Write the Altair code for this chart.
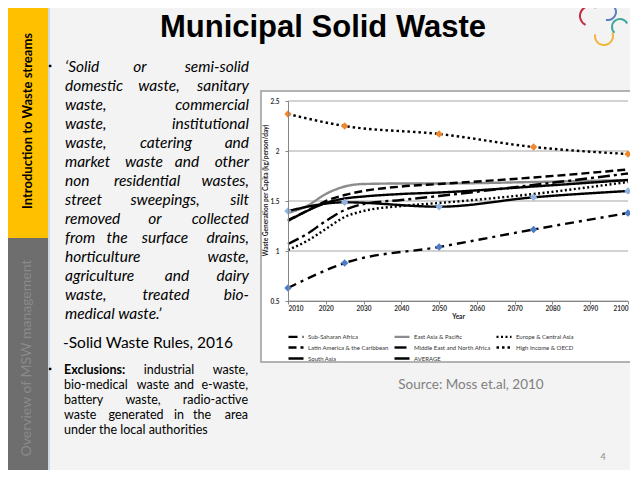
import altair as alt
import pandas as pd

# ---------------- chart data ----------------
series_order = [
    "Sub-Saharan Africa", "Latin America & the Caribbean", "South Asia",
    "East Asia & Pacific", "Middle East and North Africa", "AVERAGE",
    "Europe & Central Asia", "High Income & OECD",
]
years_curve = [2010, 2015, 2020, 2025, 2030, 2040, 2050, 2075, 2100]
east_asia = [1.38, 1.45, 1.57, 1.645, 1.67, 1.675, 1.675, 1.69, 1.71]
latin_america = [1.31, 1.40, 1.50, 1.56, 1.60, 1.645, 1.67, 1.735, 1.815]
middle_east = [1.07, 1.17, 1.30, 1.41, 1.47, 1.51, 1.55, 1.66, 1.775]
europe = [1.01, 1.10, 1.22, 1.34, 1.40, 1.45, 1.48, 1.57, 1.69]
average = [1.30, 1.40, 1.48, 1.525, 1.545, 1.57, 1.585, 1.645, 1.71]

years_marker = [2010, 2025, 2050, 2075, 2100]
sub_saharan = [0.63, 0.88, 1.04, 1.215, 1.38]
south_asia = [1.40, 1.487, 1.443, 1.537, 1.60]
high_income = [2.37, 2.25, 2.17, 2.04, 1.97]

x_ticks = [2010, 2020, 2030, 2040, 2050, 2060, 2070, 2080, 2090, 2100]
y_ticks = [0.5, 1, 1.5, 2, 2.5]

rows = []
for name, yrs, vals in [
    ("Sub-Saharan Africa", years_marker, sub_saharan),
    ("East Asia & Pacific", years_curve, east_asia),
    ("Europe & Central Asia", years_curve, europe),
    ("Latin America & the Caribbean", years_curve, latin_america),
    ("Middle East and North Africa", years_curve, middle_east),
    ("High Income & OECD", years_marker, high_income),
    ("South Asia", years_marker, south_asia),
    ("AVERAGE", years_curve, average),
]:
    for yr, v in zip(yrs, vals):
        rows.append({"series": name, "year": yr, "value": v})
df = pd.DataFrame(rows)
grid_df = pd.DataFrame({"value": y_ticks})

# slide texts
title_text = "Municipal Solid Waste"
side_text_1 = "Introduction to Waste streams"
side_text_2 = "Overview of MSW management"
quote_lines = [
    ["\u2018Solid", "or", "semi-solid"],
    ["domestic", "waste,", "sanitary"],
    ["waste,", "commercial"],
    ["waste,", "institutional"],
    ["waste,", "catering", "and"],
    ["market", "waste", "and", "other"],
    ["non", "residential", "wastes,"],
    ["street", "sweepings,", "silt"],
    ["removed", "or", "collected"],
    ["from", "the", "surface", "drains,"],
    ["horticulture", "waste,"],
    ["agriculture", "and", "dairy"],
    ["waste,", "treated", "bio-"],
    ["medical waste.\u2019"],
]
rules_text = "-Solid Waste Rules, 2016"
excl_lines = [
    ["Exclusions:", "industrial", "waste,"],
    ["bio-medical", "waste", "and", "e-waste,"],
    ["battery", "waste,", "radio-active"],
    ["waste", "generated", "in", "the", "area"],
    ["under the local authorities"],
]
source_text = "Source: Moss et.al, 2010"
page_text = "4"

# ---------------- layout (reference pixel coordinates) ----------------
OX, OY = 288, 101          # plot origin in page pixels
W, H = 340, 200
BODY = "Lato"

quote_mid = [[140], [159], [], [], [166], [144, 187], [147], [165], [155], [117, 165], [], [177], [166], []]
excl_mid = [[169], [153, 184], [143], [136, 179, 202], []]


def one():
    return alt.InlineData(values=[{"a": 0}])


def txt(s, x, y, size, align="left", font=BODY, style="normal", weight="normal",
        color="#000000", angle=0, baseline="middle"):
    return alt.Chart(alt.InlineData(values=[{"t": s}])).mark_text(
        align=align, baseline=baseline, fontSize=size, font=font, fontStyle=style,
        fontWeight=weight, color=color, angle=angle
    ).encode(x=alt.value(x - OX), y=alt.value(y - OY), text="t:N")


def rect(x1, y1, x2, y2, **kw):
    return alt.Chart(one()).mark_rect(**kw).encode(
        x=alt.value(x1 - OX), x2=alt.value(x2 - OX), y=alt.value(y1 - OY), y2=alt.value(y2 - OY))


def arc(cx, cy, r, t1, t2, color):
    return alt.Chart(one()).mark_arc(radius=r, radius2=r - 2, theta=t1, theta2=t2, color=color).encode(
        x=alt.value(cx - OX), y=alt.value(cy - OY))


def justified(lines, mids, left, right, y0, dy, size, style="normal", first_bold=False):
    out = []
    for i, (words, m) in enumerate(zip(lines, mids)):
        y = y0 + i * dy
        for j, w in enumerate(words):
            weight = "bold" if (first_bold and i == 0 and j == 0) else "normal"
            if j == 0:
                out.append(txt(w, left, y, size, "left", style=style, weight=weight))
            elif j == len(words) - 1:
                out.append(txt(w, right, y, size, "right", style=style, weight=weight))
            else:
                out.append(txt(w, m[j - 1], y, size, "center", style=style, weight=weight))
    return out


deco = [
    rect(0, 0, 48, 238, color="#ffc000"),
    rect(0, 238, 48, 478, color="#6e6e6e"),
    alt.Chart(one()).mark_rule(color="#a9c2d8", strokeWidth=1).encode(
        x=alt.value(49 - OX), y=alt.value(0 - OY), y2=alt.value(478 - OY)),
    txt(side_text_1, 28, 121, 13, "center", weight="bold", angle=270),
    txt(side_text_2, 27, 358, 14, "center", color="#8a8a8a", angle=270),
    txt(title_text, 323, 37, 31, "center", font="Liberation Sans", weight="bold", baseline="alphabetic"),
    txt("\u25aa", 50, 66, 9, "center"),
    txt("\u25aa", 50, 369, 9, "center"),
    txt(rules_text, 63, 343, 15.5, "left"),
    txt(source_text, 471, 385, 13.5, "center", color="#808080"),
    txt(page_text, 603, 457, 9, "center", color="#8a8a8a"),
    # decorative logo strokes (top right)
    arc(590, 16, 11, 3.6, 6.9, "#c22f45"),
    arc(608, 12, 9, 0.2, 3.4, "#5b7fc0"),
    arc(604, 36, 10, 1.2, 4.9, "#f0b63a"),
    arc(620, 27, 9, 3.9, 7.4, "#3fa89b"),
    rect(261, 91, 637, 362, fill="#ffffff", stroke="#9c9c9c", strokeWidth=1.5),
]
deco += justified(quote_lines, quote_mid, 65, 249, 67, 19, 15.5, style="italic")
deco += justified(excl_lines, excl_mid, 64, 248, 370, 15, 12.5, first_bold=True)

# ---------------- chart ----------------
style = {
    "Sub-Saharan Africa": ("#000000", [9, 5, 3, 5], 2.4),
    "East Asia & Pacific": ("#8c8c8c", [1, 0], 2),
    "Europe & Central Asia": ("#000000", [2, 2.5], 2.4),
    "Latin America & the Caribbean": ("#000000", [8, 4], 2.4),
    "Middle East and North Africa": ("#000000", [12, 4, 3, 4], 2.4),
    "High Income & OECD": ("#000000", [2.5, 3], 2.4),
    "South Asia": ("#000000", [1, 0], 2),
    "AVERAGE": ("#000000", [1, 0], 3.2),
}
colors = [style[s][0] for s in series_order]
dashes = [style[s][1] for s in series_order]
widths = [style[s][2] for s in series_order]

leg = alt.Legend(title=None, orient="none", legendX=-1, legendY=230, columns=3,
                 columnPadding=0, rowPadding=0, symbolSize=64, symbolType="M-1,0L2.75,0",
                 labelFontSize=6, labelFont=BODY, labelColor="#333333", labelOffset=10)

xs = alt.Scale(domain=[2010, 2100], nice=False)
ys = alt.Scale(domain=[0.5, 2.5], nice=False, zero=False)

x_axis = alt.Axis(values=x_ticks, format="d", title="Year", grid=False, labelOverlap=False,
                  tickSize=3, labelPadding=1, titlePadding=2, zindex=1)
y_axis = alt.Axis(values=y_ticks, format="~g", grid=False, labelOverlap=False,
                  title="Waste Generation per Capita (kg/person/day)",
                  tickSize=3, labelPadding=6, titlePadding=1, titleY=89, zindex=1)

grid = alt.Chart(grid_df).mark_rule(color="#a6a6a6", strokeWidth=1).encode(
    y=alt.Y("value:Q", scale=ys, axis=y_axis), x=alt.value(0), x2=alt.value(W))

lines = alt.Chart(df).mark_line(interpolate="monotone").encode(
    x=alt.X("year:Q", scale=xs, axis=x_axis),
    y=alt.Y("value:Q", scale=ys, axis=y_axis),
    color=alt.Color("series:N", scale=alt.Scale(domain=series_order, range=colors), legend=leg),
    strokeDash=alt.StrokeDash("series:N", scale=alt.Scale(domain=series_order, range=dashes), legend=leg),
    strokeWidth=alt.StrokeWidth("series:N", scale=alt.Scale(domain=series_order, range=widths), legend=leg),
    order=alt.Order("year:Q"),
)

markers = []
for name, col in [("Sub-Saharan Africa", "#4a7cc7"), ("South Asia", "#8fb4e3"), ("High Income & OECD", "#f0882e")]:
    markers.append(
        alt.Chart(df).transform_filter(alt.datum.series == name).mark_point(
            shape="diamond", filled=True, size=55, opacity=1, color=col
        ).encode(x=alt.X("year:Q", scale=xs, axis=x_axis), y=alt.Y("value:Q", scale=ys, axis=y_axis))
    )

chart = alt.layer(*deco, grid, lines, *markers).properties(
    width=W, height=H,
    autosize=alt.AutoSizeParams(type="none"),
    padding={"left": 280, "top": 93, "right": 2, "bottom": 169},
    background="#f3f3f3",
).configure_view(stroke="transparent").configure_axis(
    labelFont=BODY, labelFontWeight="bold", labelFontSize=6.5, labelColor="#333333",
    titleFont=BODY, titleFontWeight="bold", titleFontSize=6.5, titleColor="#222222",
    domainColor="#868686", tickColor="#868686",
)

chart.save("out.html", embed_options={"renderer": "svg", "actions": False})
